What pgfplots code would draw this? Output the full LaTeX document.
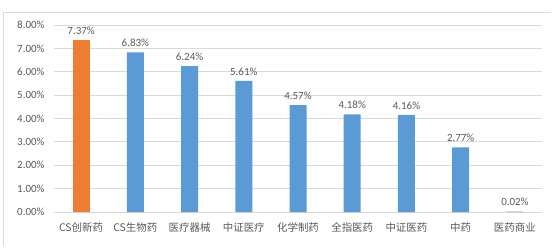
\documentclass[border=0pt]{standalone}
\usepackage{pgfplots}
\pgfplotsset{compat=1.18}
\usepackage{fontspec}
\setmainfont{Carlito}
\newfontfamily\cjk{Noto Sans CJK SC}
\definecolor{exblue}{HTML}{5B9BD5}
\definecolor{exorange}{HTML}{ED7D31}
\definecolor{txt}{HTML}{595959}
\definecolor{gridc}{HTML}{D9D9D9}
\begin{document}
\begin{tikzpicture}[x=1bp,y=1bp]
\useasboundingbox (0,0) rectangle (553,248);
\draw[gridc, line width=0.8bp] (3,2) -- (3,236) -- (551,236);
\begin{axis}[
  at={(54bp,36bp)}, anchor=south west,
  scale only axis, width=488bp, height=187bp,
  xmin=-0.5, xmax=8.5, ymin=0, ymax=8,
  ybar, bar width=17bp, bar shift=0pt,
  axis line style={draw=none},
  tick style={draw=none},
  ytick={0,1,...,8},
  ymajorgrids, grid style={gridc, line width=0.8bp},
  xtick={0,...,8},
  xticklabels={CS创新药,CS生物药,医疗器械,中证医疗,化学制药,全指医药,中证医药,中药,医药商业},
  xticklabel style={font=\cjk\fontsize{10.5}{12}\selectfont, text=txt, yshift=-3bp},
  yticklabel style={font=\fontsize{11}{13}\selectfont, text=txt, xshift=-6bp},
  yticklabel={\pgfmathprintnumber[fixed,fixed zerofill,precision=2]{\tick}\%},
  nodes near coords={\pgfmathprintnumber[fixed,fixed zerofill,precision=2]{\pgfplotspointmeta}\%},
  nodes near coords style={font=\fontsize{11}{13}\selectfont, text=txt, yshift=2bp},
  /pgf/number format/assume math mode=true,
]
\addplot[fill=exorange, draw=none] coordinates {(0,7.37)};
\addplot[fill=exblue, draw=none] coordinates {(1,6.83) (2,6.24) (3,5.61) (4,4.57) (5,4.18) (6,4.16) (7,2.77) (8,0.02)};
\end{axis}
\end{tikzpicture}
\end{document}
